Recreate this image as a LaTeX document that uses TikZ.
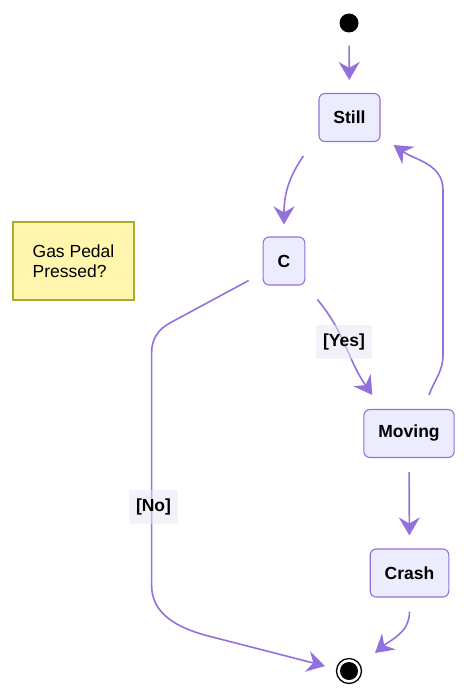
\documentclass[tikz,border=0pt]{standalone}
\usepackage{fontspec}
\setmainfont{Liberation Sans}
\usetikzlibrary{arrows.meta}
\definecolor{statefill}{HTML}{ECECFF}
\definecolor{stateline}{HTML}{9370DB}
\definecolor{notefill}{HTML}{FFF5AD}
\definecolor{noteline}{HTML}{AAAA33}
\definecolor{guardfill}{HTML}{E8E8F6}

\begin{document}
\begin{tikzpicture}[x=1pt,y=1pt,
		state/.style={draw=stateline, fill=statefill, line width=1.1pt, rounded corners=6pt,
			minimum height=48pt, inner xsep=14.5pt, font=\fontsize{17.5}{21}\selectfont\bfseries},
		note/.style={draw=noteline, fill=notefill, line width=1.1pt, minimum width=121pt,
			minimum height=78pt, align=left, font=\fontsize{17.5}{20.5}\selectfont},
		guard/.style={fill=guardfill, fill opacity=0.55, text opacity=1, inner xsep=7pt,
			minimum height=34pt, font=\fontsize{17.5}{21}\selectfont\bfseries},
		flow/.style={draw=stateline, line width=1.6pt, -{Stealth[length=18pt,width=21pt,inset=6pt]}},
		startdot/.style={circle, fill=black, minimum size=19pt, inner sep=0pt},
		endring/.style={circle, draw=black, line width=1.3pt, fill=white, minimum size=25pt, inner sep=0pt},
		enddot/.style={circle, fill=black, minimum size=18pt, inner sep=0pt}]
		\useasboundingbox (0,0) rectangle (468,-698);

		% States
		\node[startdot] (start) at (349,-23) {};
		\node[state] (still) at (349.5,-117.5) {Still};
		\node[state] (c) at (284,-261) {C};
		\node[state] (moving) at (409,-433.5) {Moving};
		\node[state] (crash) at (409.5,-573) {Crash};
		\node[endring] (end) at (349,-671) {};
		\node[enddot] (endcore) at (end.center) {};

		% Note
		\node[note] (pedal) at (73.5,-261) {Gas Pedal\\Pressed?};

		% Transitions
		\draw[flow, shorten <=13pt, shorten >=13pt] (start) -- (still);
		\draw[flow] ([shift={(-15,-14)}]still.south west) to[out=-125,in=90] ([yshift=12pt]c.north);
		\draw[flow] ([shift={(12,-14)}]c.south east) to[out=-50,in=125] ([shift={(9,14)}]moving.north west);
		\draw[flow] ([shift={(20,14)}]moving.north) to[out=70,in=-90] ++(14,40) -- ++(0,165)
			to[out=90,in=-35] ([shift={(13,-3)}]still.south east);
		\draw[flow, shorten <=14pt, shorten >=13pt] (moving) -- (crash);
		\draw[flow] ([yshift=-14pt]crash.south) to[out=-90,in=40] ([shift={(26,18)}]end.center);
		\draw[flow] ([shift={(-14,5)}]c.south west) -- ++(-78,-42) to[out=-152,in=90] ++(-19,-30)
			-- ++(0,-233) to[out=-90,in=165] ++(55,-50) -- ([shift={(-24,5)}]end.center);

		% Guards
		\node[guard] (yes) at (344,-342) {[Yes]};
		\node[guard] (no) at (153.5,-507) {[No]};
\end{tikzpicture}
\end{document}
